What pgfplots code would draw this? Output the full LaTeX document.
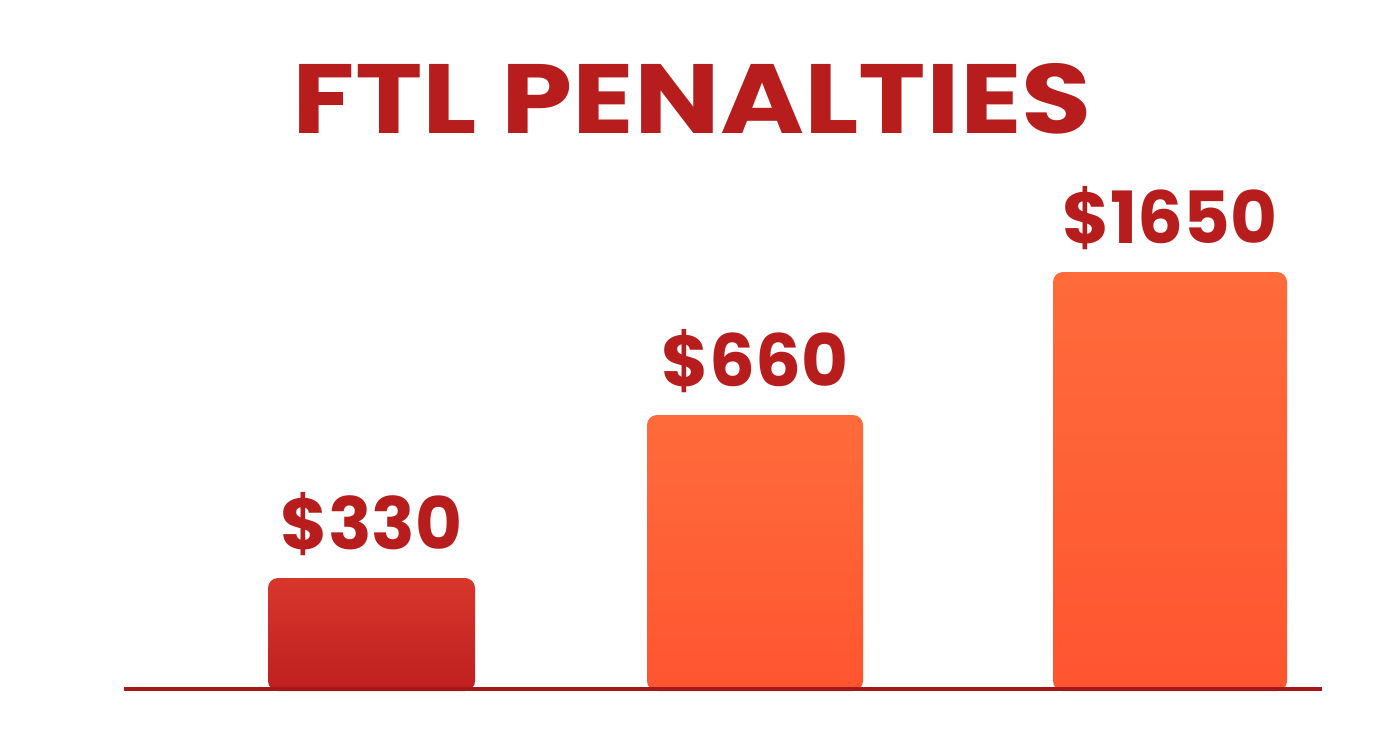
\documentclass[border=0pt]{standalone}
\usepackage{fontspec}
\setmainfont{Poppins}
\usepackage{pgfplots}
\pgfplotsset{compat=1.18}
\definecolor{titlered}{HTML}{B81D1D}
\definecolor{basered}{HTML}{A5181A}
\definecolor{redtop}{HTML}{D7372B}
\definecolor{redbot}{HTML}{BF1F1F}
\definecolor{orgtop}{HTML}{FF6B3B}
\definecolor{orgbot}{HTML}{FF5530}
\begin{document}
\begin{tikzpicture}
\begin{axis}[
  scale only axis, width=13.92cm, height=6.91cm,
  xmin=0, xmax=1392, ymin=61, ymax=752,
  hide axis, clip=true,
  every node near coord/.append style={font=\bfseries\fontsize{20.5}{24}\selectfont, text=titlered, anchor=base, yshift=0.29cm},
  barstyle/.style={ybar, bar shift=0pt, draw=none, rounded corners=0.1cm,
    point meta=explicit symbolic, nodes near coords},
]
% bars: x = centre, y = drawn top (pictorial height), label = value
\addplot[barstyle, bar width=207, top color=redtop, bottom color=redbot]
  coordinates {(371.5,174) [\$330]};
\addplot[barstyle, bar width=216, top color=orgtop, bottom color=orgbot]
  coordinates {(755,337) [\$660]};
\addplot[barstyle, bar width=234, top color=orgtop, bottom color=orgbot]
  coordinates {(1170,480) [\$1650]};
\addplot[basered, line width=1.15pt] coordinates {(124,63) (1322,63)};
\node[font=\bfseries\fontsize{28}{32}\selectfont, text=titlered, anchor=base, xscale=1.16] at (axis cs:692.5,619) {FTL PENALTIES};
\end{axis}
\path (0,-0.61cm) rectangle (13.92cm,6.91cm);
\end{tikzpicture}
\end{document}
